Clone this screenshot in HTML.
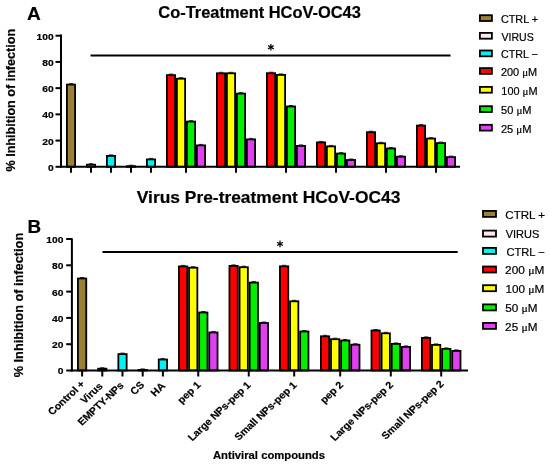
<!DOCTYPE html>
<html><head><meta charset="utf-8"><style>
html,body{margin:0;padding:0;background:#fff;}
svg{display:block;filter:blur(0.4px);}
text{font-family:"Liberation Sans", sans-serif;fill:#000;stroke:#000;stroke-width:0.2px;}
</style></head><body>
<svg width="550" height="467" viewBox="0 0 550 467">
<rect width="550" height="467" fill="#fff"/>
<rect x="66.90" y="84.60" width="8.20" height="82.20" fill="#9a8034" stroke="#000" stroke-width="1.8"/>
<rect x="68.80" y="83.10" width="4.4" height="1.0" fill="#000" opacity="0.8"/>
<rect x="86.90" y="164.70" width="8.20" height="2.10" fill="#ffe6ea" stroke="#000" stroke-width="1.8"/>
<rect x="88.80" y="163.20" width="4.4" height="1.0" fill="#000" opacity="0.8"/>
<rect x="106.90" y="155.90" width="8.20" height="10.90" fill="#00f2f2" stroke="#000" stroke-width="1.8"/>
<rect x="108.80" y="154.40" width="4.4" height="1.0" fill="#000" opacity="0.8"/>
<rect x="126.90" y="166.20" width="8.20" height="0.60" fill="#00f2f2" stroke="#000" stroke-width="1.8"/>
<rect x="128.80" y="164.70" width="4.4" height="1.0" fill="#000" opacity="0.8"/>
<rect x="146.90" y="159.40" width="8.20" height="7.40" fill="#00f2f2" stroke="#000" stroke-width="1.8"/>
<rect x="148.80" y="157.90" width="4.4" height="1.0" fill="#000" opacity="0.8"/>
<rect x="166.90" y="75.10" width="8.20" height="91.70" fill="#ff0000" stroke="#000" stroke-width="1.8"/>
<rect x="168.80" y="73.60" width="4.4" height="1.0" fill="#000" opacity="0.8"/>
<rect x="176.90" y="78.70" width="8.20" height="88.10" fill="#ffff00" stroke="#000" stroke-width="1.8"/>
<rect x="178.80" y="77.20" width="4.4" height="1.0" fill="#000" opacity="0.8"/>
<rect x="186.90" y="121.60" width="8.20" height="45.20" fill="#00f000" stroke="#000" stroke-width="1.8"/>
<rect x="188.80" y="120.10" width="4.4" height="1.0" fill="#000" opacity="0.8"/>
<rect x="196.90" y="145.40" width="8.20" height="21.40" fill="#e040f0" stroke="#000" stroke-width="1.8"/>
<rect x="198.80" y="143.90" width="4.4" height="1.0" fill="#000" opacity="0.8"/>
<rect x="216.90" y="73.30" width="8.20" height="93.50" fill="#ff0000" stroke="#000" stroke-width="1.8"/>
<rect x="218.80" y="71.80" width="4.4" height="1.0" fill="#000" opacity="0.8"/>
<rect x="226.90" y="73.30" width="8.20" height="93.50" fill="#ffff00" stroke="#000" stroke-width="1.8"/>
<rect x="228.80" y="71.80" width="4.4" height="1.0" fill="#000" opacity="0.8"/>
<rect x="236.90" y="93.60" width="8.20" height="73.20" fill="#00f000" stroke="#000" stroke-width="1.8"/>
<rect x="238.80" y="92.10" width="4.4" height="1.0" fill="#000" opacity="0.8"/>
<rect x="246.90" y="139.40" width="8.20" height="27.40" fill="#e040f0" stroke="#000" stroke-width="1.8"/>
<rect x="248.80" y="137.90" width="4.4" height="1.0" fill="#000" opacity="0.8"/>
<rect x="266.90" y="73.20" width="8.20" height="93.60" fill="#ff0000" stroke="#000" stroke-width="1.8"/>
<rect x="268.80" y="71.70" width="4.4" height="1.0" fill="#000" opacity="0.8"/>
<rect x="276.90" y="74.90" width="8.20" height="91.90" fill="#ffff00" stroke="#000" stroke-width="1.8"/>
<rect x="278.80" y="73.40" width="4.4" height="1.0" fill="#000" opacity="0.8"/>
<rect x="286.90" y="106.50" width="8.20" height="60.30" fill="#00f000" stroke="#000" stroke-width="1.8"/>
<rect x="288.80" y="105.00" width="4.4" height="1.0" fill="#000" opacity="0.8"/>
<rect x="296.90" y="145.90" width="8.20" height="20.90" fill="#e040f0" stroke="#000" stroke-width="1.8"/>
<rect x="298.80" y="144.40" width="4.4" height="1.0" fill="#000" opacity="0.8"/>
<rect x="316.90" y="142.40" width="8.20" height="24.40" fill="#ff0000" stroke="#000" stroke-width="1.8"/>
<rect x="318.80" y="140.90" width="4.4" height="1.0" fill="#000" opacity="0.8"/>
<rect x="326.90" y="146.40" width="8.20" height="20.40" fill="#ffff00" stroke="#000" stroke-width="1.8"/>
<rect x="328.80" y="144.90" width="4.4" height="1.0" fill="#000" opacity="0.8"/>
<rect x="336.90" y="153.60" width="8.20" height="13.20" fill="#00f000" stroke="#000" stroke-width="1.8"/>
<rect x="338.80" y="152.10" width="4.4" height="1.0" fill="#000" opacity="0.8"/>
<rect x="346.90" y="160.00" width="8.20" height="6.80" fill="#e040f0" stroke="#000" stroke-width="1.8"/>
<rect x="348.80" y="158.50" width="4.4" height="1.0" fill="#000" opacity="0.8"/>
<rect x="366.90" y="132.20" width="8.20" height="34.60" fill="#ff0000" stroke="#000" stroke-width="1.8"/>
<rect x="368.80" y="130.70" width="4.4" height="1.0" fill="#000" opacity="0.8"/>
<rect x="376.90" y="143.30" width="8.20" height="23.50" fill="#ffff00" stroke="#000" stroke-width="1.8"/>
<rect x="378.80" y="141.80" width="4.4" height="1.0" fill="#000" opacity="0.8"/>
<rect x="386.90" y="148.50" width="8.20" height="18.30" fill="#00f000" stroke="#000" stroke-width="1.8"/>
<rect x="388.80" y="147.00" width="4.4" height="1.0" fill="#000" opacity="0.8"/>
<rect x="396.90" y="156.70" width="8.20" height="10.10" fill="#e040f0" stroke="#000" stroke-width="1.8"/>
<rect x="398.80" y="155.20" width="4.4" height="1.0" fill="#000" opacity="0.8"/>
<rect x="416.90" y="125.60" width="8.20" height="41.20" fill="#ff0000" stroke="#000" stroke-width="1.8"/>
<rect x="418.80" y="124.10" width="4.4" height="1.0" fill="#000" opacity="0.8"/>
<rect x="426.90" y="138.60" width="8.20" height="28.20" fill="#ffff00" stroke="#000" stroke-width="1.8"/>
<rect x="428.80" y="137.10" width="4.4" height="1.0" fill="#000" opacity="0.8"/>
<rect x="436.90" y="143.10" width="8.20" height="23.70" fill="#00f000" stroke="#000" stroke-width="1.8"/>
<rect x="438.80" y="141.60" width="4.4" height="1.0" fill="#000" opacity="0.8"/>
<rect x="446.90" y="157.10" width="8.20" height="9.70" fill="#e040f0" stroke="#000" stroke-width="1.8"/>
<rect x="448.80" y="155.60" width="4.4" height="1.0" fill="#000" opacity="0.8"/>
<line x1="61.00" y1="34.60" x2="61.00" y2="167.80" stroke="#000" stroke-width="2"/>
<line x1="60.00" y1="166.80" x2="460.00" y2="166.80" stroke="#000" stroke-width="2"/>
<line x1="55.50" y1="166.80" x2="61.00" y2="166.80" stroke="#000" stroke-width="2"/>
<text transform="translate(47.90 170.72) scale(1.0500 1)" font-size="9.8" font-weight="bold">0</text>
<line x1="55.50" y1="140.58" x2="61.00" y2="140.58" stroke="#000" stroke-width="2"/>
<text transform="translate(42.18 144.50) scale(1.0500 1)" font-size="9.8" font-weight="bold">20</text>
<line x1="55.50" y1="114.36" x2="61.00" y2="114.36" stroke="#000" stroke-width="2"/>
<text transform="translate(42.18 118.28) scale(1.0500 1)" font-size="9.8" font-weight="bold">40</text>
<line x1="55.50" y1="88.14" x2="61.00" y2="88.14" stroke="#000" stroke-width="2"/>
<text transform="translate(42.18 92.06) scale(1.0500 1)" font-size="9.8" font-weight="bold">60</text>
<line x1="55.50" y1="61.92" x2="61.00" y2="61.92" stroke="#000" stroke-width="2"/>
<text transform="translate(42.18 65.84) scale(1.0500 1)" font-size="9.8" font-weight="bold">80</text>
<line x1="55.50" y1="35.70" x2="61.00" y2="35.70" stroke="#000" stroke-width="2"/>
<text transform="translate(36.45 39.62) scale(1.0500 1)" font-size="9.8" font-weight="bold">100</text>
<line x1="71.00" y1="166.80" x2="71.00" y2="172.80" stroke="#000" stroke-width="2"/>
<line x1="91.00" y1="166.80" x2="91.00" y2="172.80" stroke="#000" stroke-width="2"/>
<line x1="111.00" y1="166.80" x2="111.00" y2="172.80" stroke="#000" stroke-width="2"/>
<line x1="131.00" y1="166.80" x2="131.00" y2="172.80" stroke="#000" stroke-width="2"/>
<line x1="151.00" y1="166.80" x2="151.00" y2="172.80" stroke="#000" stroke-width="2"/>
<line x1="186.00" y1="166.80" x2="186.00" y2="172.80" stroke="#000" stroke-width="2"/>
<line x1="236.00" y1="166.80" x2="236.00" y2="172.80" stroke="#000" stroke-width="2"/>
<line x1="286.00" y1="166.80" x2="286.00" y2="172.80" stroke="#000" stroke-width="2"/>
<line x1="336.00" y1="166.80" x2="336.00" y2="172.80" stroke="#000" stroke-width="2"/>
<line x1="386.00" y1="166.80" x2="386.00" y2="172.80" stroke="#000" stroke-width="2"/>
<line x1="436.00" y1="166.80" x2="436.00" y2="172.80" stroke="#000" stroke-width="2"/>
<line x1="90.50" y1="55.50" x2="450.50" y2="55.50" stroke="#000" stroke-width="2.2"/>
<line x1="270.90" y1="43.90" x2="270.90" y2="50.50" stroke="#000" stroke-width="1.25"/>
<line x1="268.04" y1="45.55" x2="273.76" y2="48.85" stroke="#000" stroke-width="1.25"/>
<line x1="273.76" y1="45.55" x2="268.04" y2="48.85" stroke="#000" stroke-width="1.25"/>
<circle cx="270.9" cy="47.2" r="1.0" fill="#000"/>
<rect x="479.90" y="15.20" width="12.00" height="5.80" fill="#9a8034" stroke="#000" stroke-width="1.8"/>
<text transform="translate(500.95 22.90) scale(1.0020 1)" font-size="10.8" font-weight="normal">CTRL +</text>
<rect x="479.90" y="32.90" width="12.00" height="5.80" fill="#ffe6ea" stroke="#000" stroke-width="1.8"/>
<text transform="translate(501.45 40.60) scale(0.9796 1)" font-size="10.8" font-weight="normal">VIRUS</text>
<rect x="479.90" y="50.50" width="12.00" height="5.80" fill="#00f2f2" stroke="#000" stroke-width="1.8"/>
<text transform="translate(500.96 58.20) scale(0.9908 1)" font-size="10.8" font-weight="normal">CTRL −</text>
<rect x="479.90" y="68.10" width="12.00" height="5.80" fill="#ff0000" stroke="#000" stroke-width="1.8"/>
<text transform="translate(500.95 75.80) scale(1.0141 1)" font-size="10.8" font-weight="normal">200 <tspan font-family="Liberation Serif" font-weight="normal">μ</tspan>M</text>
<rect x="479.90" y="86.90" width="12.00" height="5.80" fill="#ffff00" stroke="#000" stroke-width="1.8"/>
<text transform="translate(501.37 94.60) scale(1.0107 1)" font-size="10.8" font-weight="normal">100 <tspan font-family="Liberation Serif" font-weight="normal">μ</tspan>M</text>
<rect x="479.90" y="106.20" width="12.00" height="5.80" fill="#00f000" stroke="#000" stroke-width="1.8"/>
<text transform="translate(501.06 113.90) scale(1.0237 1)" font-size="10.8" font-weight="normal">50 <tspan font-family="Liberation Serif" font-weight="normal">μ</tspan>M</text>
<rect x="479.90" y="124.80" width="12.00" height="5.80" fill="#e040f0" stroke="#000" stroke-width="1.8"/>
<text transform="translate(500.94 132.50) scale(1.0277 1)" font-size="10.8" font-weight="normal">25 <tspan font-family="Liberation Serif" font-weight="normal">μ</tspan>M</text>
<rect x="77.95" y="278.50" width="8.30" height="92.00" fill="#9a8034" stroke="#000" stroke-width="1.8"/>
<rect x="79.90" y="277.00" width="4.4" height="1.0" fill="#000" opacity="0.8"/>
<rect x="98.15" y="368.70" width="8.30" height="1.80" fill="#ffe6ea" stroke="#000" stroke-width="1.8"/>
<rect x="100.10" y="367.20" width="4.4" height="1.0" fill="#000" opacity="0.8"/>
<rect x="118.35" y="354.10" width="8.30" height="16.40" fill="#00f2f2" stroke="#000" stroke-width="1.8"/>
<rect x="120.30" y="352.60" width="4.4" height="1.0" fill="#000" opacity="0.8"/>
<rect x="138.55" y="369.90" width="8.30" height="0.60" fill="#00f2f2" stroke="#000" stroke-width="1.8"/>
<rect x="140.50" y="368.40" width="4.4" height="1.0" fill="#000" opacity="0.8"/>
<rect x="158.75" y="359.50" width="8.30" height="11.00" fill="#00f2f2" stroke="#000" stroke-width="1.8"/>
<rect x="160.70" y="358.00" width="4.4" height="1.0" fill="#000" opacity="0.8"/>
<rect x="178.95" y="266.40" width="8.30" height="104.10" fill="#ff0000" stroke="#000" stroke-width="1.8"/>
<rect x="180.90" y="264.90" width="4.4" height="1.0" fill="#000" opacity="0.8"/>
<rect x="189.05" y="267.70" width="8.30" height="102.80" fill="#ffff00" stroke="#000" stroke-width="1.8"/>
<rect x="191.00" y="266.20" width="4.4" height="1.0" fill="#000" opacity="0.8"/>
<rect x="199.15" y="312.50" width="8.30" height="58.00" fill="#00f000" stroke="#000" stroke-width="1.8"/>
<rect x="201.10" y="311.00" width="4.4" height="1.0" fill="#000" opacity="0.8"/>
<rect x="209.25" y="332.50" width="8.30" height="38.00" fill="#e040f0" stroke="#000" stroke-width="1.8"/>
<rect x="211.20" y="331.00" width="4.4" height="1.0" fill="#000" opacity="0.8"/>
<rect x="229.45" y="265.90" width="8.30" height="104.60" fill="#ff0000" stroke="#000" stroke-width="1.8"/>
<rect x="231.40" y="264.40" width="4.4" height="1.0" fill="#000" opacity="0.8"/>
<rect x="239.55" y="267.20" width="8.30" height="103.30" fill="#ffff00" stroke="#000" stroke-width="1.8"/>
<rect x="241.50" y="265.70" width="4.4" height="1.0" fill="#000" opacity="0.8"/>
<rect x="249.65" y="282.60" width="8.30" height="87.90" fill="#00f000" stroke="#000" stroke-width="1.8"/>
<rect x="251.60" y="281.10" width="4.4" height="1.0" fill="#000" opacity="0.8"/>
<rect x="259.75" y="323.00" width="8.30" height="47.50" fill="#e040f0" stroke="#000" stroke-width="1.8"/>
<rect x="261.70" y="321.50" width="4.4" height="1.0" fill="#000" opacity="0.8"/>
<rect x="279.95" y="266.30" width="8.30" height="104.20" fill="#ff0000" stroke="#000" stroke-width="1.8"/>
<rect x="281.90" y="264.80" width="4.4" height="1.0" fill="#000" opacity="0.8"/>
<rect x="290.05" y="301.30" width="8.30" height="69.20" fill="#ffff00" stroke="#000" stroke-width="1.8"/>
<rect x="292.00" y="299.80" width="4.4" height="1.0" fill="#000" opacity="0.8"/>
<rect x="300.15" y="331.50" width="8.30" height="39.00" fill="#00f000" stroke="#000" stroke-width="1.8"/>
<rect x="302.10" y="330.00" width="4.4" height="1.0" fill="#000" opacity="0.8"/>
<rect x="320.90" y="336.30" width="8.30" height="34.20" fill="#ff0000" stroke="#000" stroke-width="1.8"/>
<rect x="322.85" y="334.80" width="4.4" height="1.0" fill="#000" opacity="0.8"/>
<rect x="331.00" y="339.20" width="8.30" height="31.30" fill="#ffff00" stroke="#000" stroke-width="1.8"/>
<rect x="332.95" y="337.70" width="4.4" height="1.0" fill="#000" opacity="0.8"/>
<rect x="341.10" y="340.50" width="8.30" height="30.00" fill="#00f000" stroke="#000" stroke-width="1.8"/>
<rect x="343.05" y="339.00" width="4.4" height="1.0" fill="#000" opacity="0.8"/>
<rect x="351.20" y="344.70" width="8.30" height="25.80" fill="#e040f0" stroke="#000" stroke-width="1.8"/>
<rect x="353.15" y="343.20" width="4.4" height="1.0" fill="#000" opacity="0.8"/>
<rect x="371.50" y="330.50" width="8.30" height="40.00" fill="#ff0000" stroke="#000" stroke-width="1.8"/>
<rect x="373.45" y="329.00" width="4.4" height="1.0" fill="#000" opacity="0.8"/>
<rect x="381.60" y="333.30" width="8.30" height="37.20" fill="#ffff00" stroke="#000" stroke-width="1.8"/>
<rect x="383.55" y="331.80" width="4.4" height="1.0" fill="#000" opacity="0.8"/>
<rect x="391.70" y="343.90" width="8.30" height="26.60" fill="#00f000" stroke="#000" stroke-width="1.8"/>
<rect x="393.65" y="342.40" width="4.4" height="1.0" fill="#000" opacity="0.8"/>
<rect x="401.80" y="346.90" width="8.30" height="23.60" fill="#e040f0" stroke="#000" stroke-width="1.8"/>
<rect x="403.75" y="345.40" width="4.4" height="1.0" fill="#000" opacity="0.8"/>
<rect x="421.90" y="337.90" width="8.30" height="32.60" fill="#ff0000" stroke="#000" stroke-width="1.8"/>
<rect x="423.85" y="336.40" width="4.4" height="1.0" fill="#000" opacity="0.8"/>
<rect x="432.00" y="344.90" width="8.30" height="25.60" fill="#ffff00" stroke="#000" stroke-width="1.8"/>
<rect x="433.95" y="343.40" width="4.4" height="1.0" fill="#000" opacity="0.8"/>
<rect x="442.10" y="348.90" width="8.30" height="21.60" fill="#00f000" stroke="#000" stroke-width="1.8"/>
<rect x="444.05" y="347.40" width="4.4" height="1.0" fill="#000" opacity="0.8"/>
<rect x="452.20" y="350.90" width="8.30" height="19.60" fill="#e040f0" stroke="#000" stroke-width="1.8"/>
<rect x="454.15" y="349.40" width="4.4" height="1.0" fill="#000" opacity="0.8"/>
<line x1="71.90" y1="238.30" x2="71.90" y2="371.50" stroke="#000" stroke-width="2"/>
<line x1="70.90" y1="370.50" x2="468.00" y2="370.50" stroke="#000" stroke-width="2"/>
<line x1="66.20" y1="370.50" x2="71.90" y2="370.50" stroke="#000" stroke-width="2"/>
<text transform="translate(57.70 374.42) scale(1.0500 1)" font-size="9.8" font-weight="bold">0</text>
<line x1="66.20" y1="344.20" x2="71.90" y2="344.20" stroke="#000" stroke-width="2"/>
<text transform="translate(51.98 348.12) scale(1.0500 1)" font-size="9.8" font-weight="bold">20</text>
<line x1="66.20" y1="317.90" x2="71.90" y2="317.90" stroke="#000" stroke-width="2"/>
<text transform="translate(51.98 321.82) scale(1.0500 1)" font-size="9.8" font-weight="bold">40</text>
<line x1="66.20" y1="291.60" x2="71.90" y2="291.60" stroke="#000" stroke-width="2"/>
<text transform="translate(51.98 295.52) scale(1.0500 1)" font-size="9.8" font-weight="bold">60</text>
<line x1="66.20" y1="265.30" x2="71.90" y2="265.30" stroke="#000" stroke-width="2"/>
<text transform="translate(51.98 269.22) scale(1.0500 1)" font-size="9.8" font-weight="bold">80</text>
<line x1="66.20" y1="239.00" x2="71.90" y2="239.00" stroke="#000" stroke-width="2"/>
<text transform="translate(46.25 242.92) scale(1.0500 1)" font-size="9.8" font-weight="bold">100</text>
<line x1="82.10" y1="370.50" x2="82.10" y2="376.50" stroke="#000" stroke-width="2"/>
<line x1="102.30" y1="370.50" x2="102.30" y2="376.50" stroke="#000" stroke-width="2"/>
<line x1="122.50" y1="370.50" x2="122.50" y2="376.50" stroke="#000" stroke-width="2"/>
<line x1="142.70" y1="370.50" x2="142.70" y2="376.50" stroke="#000" stroke-width="2"/>
<line x1="162.90" y1="370.50" x2="162.90" y2="376.50" stroke="#000" stroke-width="2"/>
<line x1="198.25" y1="370.50" x2="198.25" y2="376.50" stroke="#000" stroke-width="2"/>
<line x1="248.75" y1="370.50" x2="248.75" y2="376.50" stroke="#000" stroke-width="2"/>
<line x1="294.20" y1="370.50" x2="294.20" y2="376.50" stroke="#000" stroke-width="2"/>
<line x1="340.20" y1="370.50" x2="340.20" y2="376.50" stroke="#000" stroke-width="2"/>
<line x1="390.80" y1="370.50" x2="390.80" y2="376.50" stroke="#000" stroke-width="2"/>
<line x1="441.20" y1="370.50" x2="441.20" y2="376.50" stroke="#000" stroke-width="2"/>
<line x1="102.50" y1="252.00" x2="457.70" y2="252.00" stroke="#000" stroke-width="2.2"/>
<line x1="280.00" y1="240.60" x2="280.00" y2="247.20" stroke="#000" stroke-width="1.25"/>
<line x1="277.14" y1="242.25" x2="282.86" y2="245.55" stroke="#000" stroke-width="1.25"/>
<line x1="282.86" y1="242.25" x2="277.14" y2="245.55" stroke="#000" stroke-width="1.25"/>
<circle cx="280" cy="243.9" r="1.0" fill="#000"/>
<rect x="483.00" y="210.90" width="13.00" height="6.00" fill="#9a8034" stroke="#000" stroke-width="1.8"/>
<text transform="translate(505.31 218.50) scale(1.0538 1)" font-size="11" font-weight="normal">CTRL +</text>
<rect x="483.00" y="230.60" width="13.00" height="6.00" fill="#ffe6ea" stroke="#000" stroke-width="1.8"/>
<text transform="translate(505.65 238.20) scale(1.0011 1)" font-size="11" font-weight="normal">VIRUS</text>
<rect x="483.00" y="247.90" width="13.00" height="6.00" fill="#00f2f2" stroke="#000" stroke-width="1.8"/>
<text transform="translate(506.43 255.50) scale(1.0132 1)" font-size="11" font-weight="normal">CTRL −</text>
<rect x="483.00" y="266.50" width="13.00" height="6.00" fill="#ff0000" stroke="#000" stroke-width="1.8"/>
<text transform="translate(505.10 274.10) scale(1.0774 1)" font-size="11" font-weight="normal">200 <tspan font-family="Liberation Serif" font-weight="normal">μ</tspan>M</text>
<rect x="483.00" y="285.20" width="13.00" height="6.00" fill="#ffff00" stroke="#000" stroke-width="1.8"/>
<text transform="translate(505.51 292.80) scale(1.0663 1)" font-size="11" font-weight="normal">100 <tspan font-family="Liberation Serif" font-weight="normal">μ</tspan>M</text>
<rect x="483.00" y="304.40" width="13.00" height="6.00" fill="#00f000" stroke="#000" stroke-width="1.8"/>
<text transform="translate(505.23 312.00) scale(1.0662 1)" font-size="11" font-weight="normal">50 <tspan font-family="Liberation Serif" font-weight="normal">μ</tspan>M</text>
<rect x="483.00" y="322.90" width="13.00" height="6.00" fill="#e040f0" stroke="#000" stroke-width="1.8"/>
<text transform="translate(505.11 330.50) scale(1.0669 1)" font-size="11" font-weight="normal">25 <tspan font-family="Liberation Serif" font-weight="normal">μ</tspan>M</text>
<text transform="translate(27.12 19.60) scale(1.0042 1)" font-size="19" font-weight="bold">A</text>
<text transform="translate(158.33 17.80) scale(0.9897 1)" font-size="16.6" font-weight="bold">Co-Treatment HCoV-OC43</text>
<text transform="translate(27.44 232.70) scale(0.9925 1)" font-size="19" font-weight="bold">B</text>
<text transform="translate(136.78 202.60) scale(1.0479 1)" font-size="16.6" font-weight="bold">Virus Pre-treatment HCoV-OC43</text>
<text transform="translate(15.10 171.20) rotate(-90) scale(0.9838 1) translate(-0.32 0)" font-size="12.8" font-weight="bold">% Inhibition of infection</text>
<text transform="translate(23.20 377.00) rotate(-90) scale(0.9977 1) translate(-0.32 0)" font-size="12.8" font-weight="bold">% Inhibition of infection</text>
<text transform="translate(212.92 458.80) scale(0.9814 1)" font-size="11.5" font-weight="bold">Antiviral compounds</text>
<text transform="translate(80.00 380.00) scale(1.06 1) rotate(-45) translate(-43.76 6.88)" font-size="10.0" font-weight="bold">Control +</text>
<text transform="translate(98.00 382.00) scale(1.06 1) rotate(-45) translate(-24.60 6.88)" font-size="10.0" font-weight="bold">Virus</text>
<text transform="translate(119.50 381.00) scale(1.06 1) rotate(-45) translate(-56.82 6.88)" font-size="10.0" font-weight="bold">EMPTY-NPs</text>
<text transform="translate(139.50 381.00) scale(1.06 1) rotate(-45) translate(-13.50 6.88)" font-size="10.0" font-weight="bold">CS</text>
<text transform="translate(160.50 382.00) scale(1.06 1) rotate(-45) translate(-14.18 6.88)" font-size="10.0" font-weight="bold">HA</text>
<text transform="translate(196.00 381.00) scale(1.06 1) rotate(-45) translate(-25.84 6.88)" font-size="10.0" font-weight="bold">pep 1</text>
<text transform="translate(246.00 381.00) scale(1.06 1) rotate(-45) translate(-78.63 6.88)" font-size="10.0" font-weight="bold">Large NPs-pep 1</text>
<text transform="translate(292.00 381.00) scale(1.06 1) rotate(-45) translate(-78.08 6.88)" font-size="10.0" font-weight="bold">Small NPs-pep 1</text>
<text transform="translate(338.50 381.00) scale(1.06 1) rotate(-45) translate(-25.72 6.88)" font-size="10.0" font-weight="bold">pep 2</text>
<text transform="translate(388.50 381.00) scale(1.06 1) rotate(-45) translate(-78.51 6.88)" font-size="10.0" font-weight="bold">Large NPs-pep 2</text>
<text transform="translate(439.00 380.00) scale(1.06 1) rotate(-45) translate(-77.96 6.88)" font-size="10.0" font-weight="bold">Small NPs-pep 2</text>
</svg></body></html>
